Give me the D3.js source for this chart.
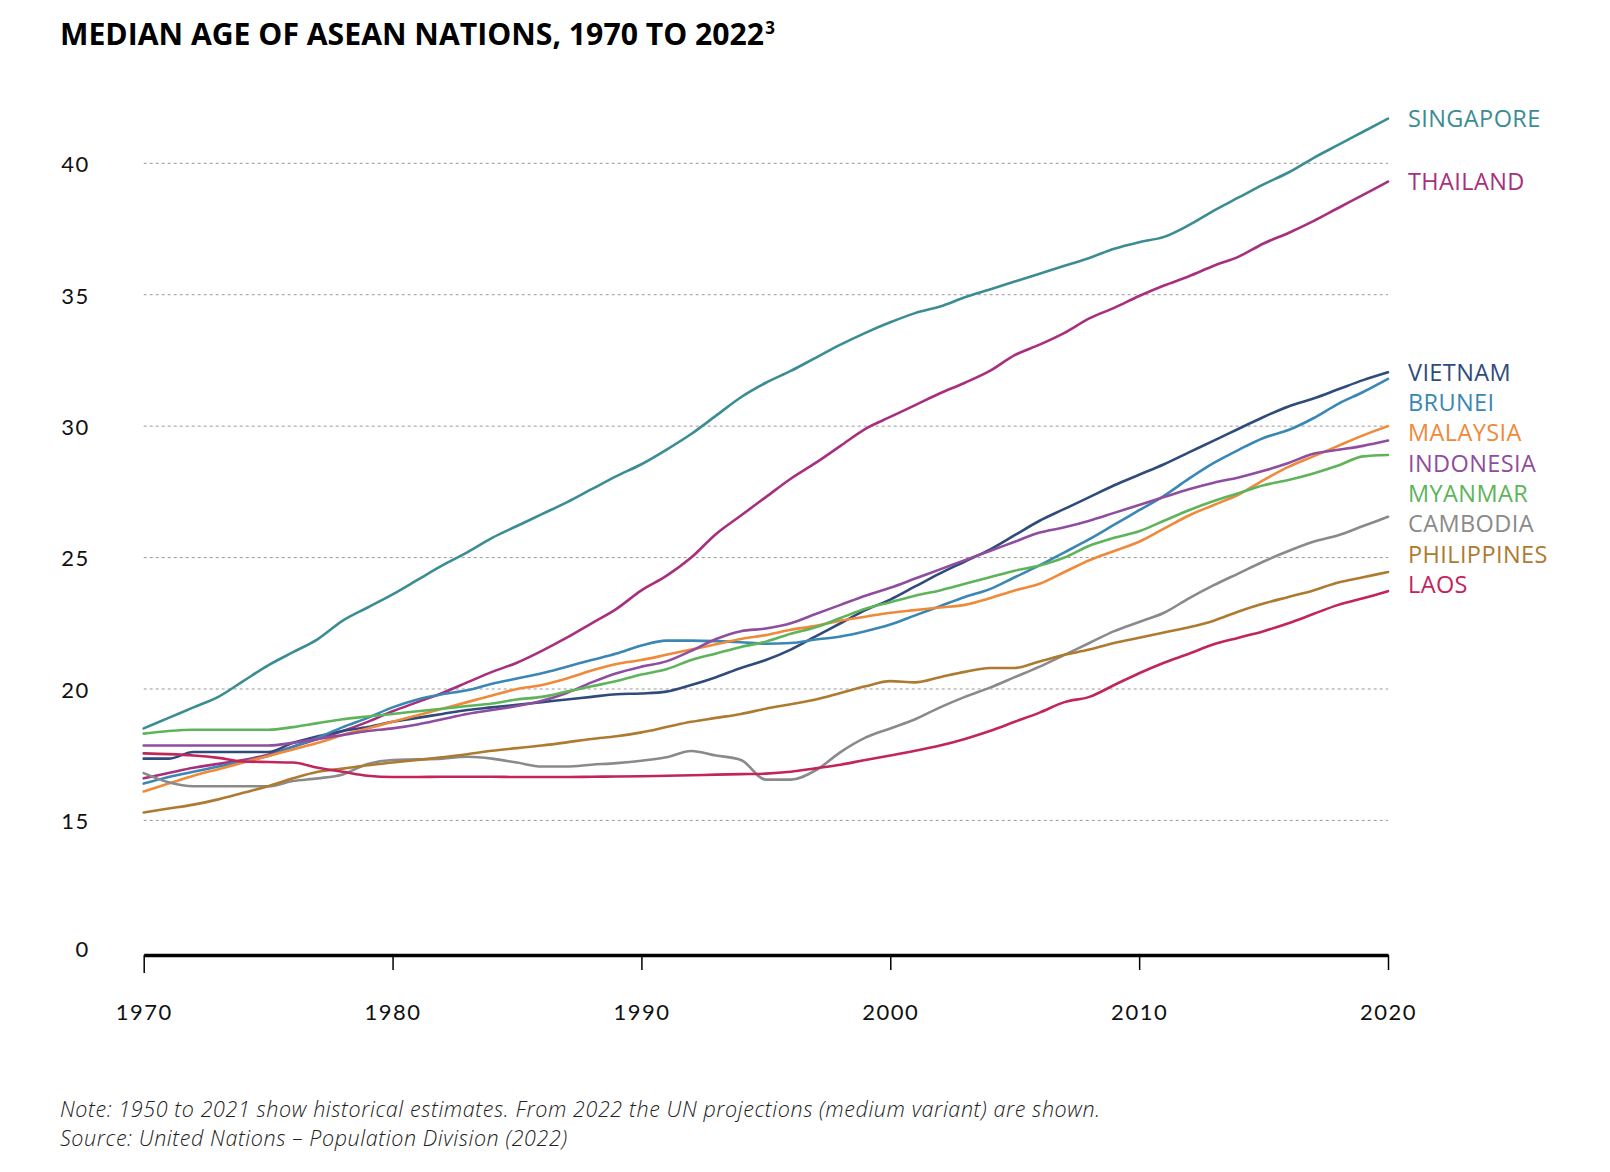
<!DOCTYPE html>
<html>
<head>
<meta charset="utf-8">
<script src="https://cdn.jsdelivr.net/npm/d3@7"></script>
<style>
  html, body { margin: 0; padding: 0; background: #fff; }
  svg { display: block; }
</style>
</head>
<body>
<script>
// ---------- DATA ----------
const years = [
  1970,1971,1972,1973,1974,1975,1976,1977,1978,1979,
  1980,1981,1982,1983,1984,1985,1986,1987,1988,1989,
  1990,1991,1992,1993,1994,1995,1996,1997,1998,1999,
  2000,2001,2002,2003,2004,2005,2006,2007,2008,2009,
  2010,2011,2012,2013,2014,2015,2016,2017,2018,2019,
  2020
];
const countries = ["SINGAPORE","THAILAND","VIETNAM","BRUNEI","MALAYSIA","INDONESIA","MYANMAR","CAMBODIA","PHILIPPINES","LAOS"];
const colors = ["#3b8d93","#a82f7d","#2f4b7b","#3a87b6","#ef8a3b","#8f4d9f","#5db45a","#8a8a8a","#ae7a2f","#c1255c"];

const singapore = [
  18.5,18.9,19.3,19.7,20.3,20.9,21.4,21.9,22.6,23.1,
  23.6,24.15,24.7,25.2,25.75,26.2,26.65,27.1,27.6,28.1,
  28.55,29.1,29.7,30.4,31.1,31.65,32.1,32.6,33.1,33.55,
  33.95,34.3,34.55,34.9,35.2,35.5,35.8,36.1,36.4,36.75,
  37.0,37.2,37.65,38.2,38.7,39.2,39.65,40.2,40.7,41.2,
  41.7];
const thailand = [
  16.6,16.8,17.0,17.15,17.3,17.5,17.8,18.1,18.4,18.75,
  19.15,19.5,19.85,20.25,20.65,21.0,21.45,21.95,22.5,23.05,
  23.75,24.3,25.0,25.9,26.6,27.3,28.0,28.6,29.25,29.9,
  30.35,30.8,31.25,31.65,32.1,32.7,33.1,33.55,34.1,34.5,
  34.95,35.35,35.7,36.1,36.45,36.95,37.35,37.8,38.3,38.8,
  39.3];
const vietnam = [
  17.35,17.35,17.6,17.6,17.6,17.6,17.95,18.2,18.4,18.55,
  18.75,18.9,19.05,19.2,19.3,19.4,19.5,19.6,19.7,19.8,
  19.83,19.9,20.15,20.45,20.8,21.1,21.5,22.0,22.5,23.0,
  23.4,23.9,24.4,24.85,25.3,25.85,26.4,26.85,27.3,27.75,
  28.15,28.55,29.0,29.45,29.9,30.35,30.75,31.05,31.4,31.75,
  32.05];
const brunei = [
  16.4,16.65,16.85,17.05,17.25,17.45,17.8,18.15,18.55,18.9,
  19.3,19.6,19.8,19.95,20.2,20.4,20.6,20.85,21.1,21.35,
  21.65,21.84,21.84,21.82,21.78,21.72,21.75,21.88,22.0,22.2,
  22.45,22.8,23.15,23.5,23.8,24.25,24.7,25.2,25.7,26.25,
  26.8,27.35,28.0,28.6,29.1,29.55,29.85,30.3,30.85,31.3,
  31.8];
const malaysia = [
  16.1,16.4,16.7,16.95,17.2,17.45,17.7,17.95,18.25,18.5,
  18.75,19.0,19.25,19.5,19.75,20.0,20.15,20.4,20.7,20.95,
  21.1,21.3,21.5,21.7,21.9,22.05,22.25,22.4,22.6,22.75,
  22.9,23.0,23.1,23.2,23.45,23.75,24.0,24.45,24.9,25.25,
  25.6,26.1,26.6,27.0,27.4,27.95,28.45,28.85,29.25,29.65,
  30.0];
const indonesia = [
  17.85,17.85,17.85,17.85,17.85,17.85,17.95,18.1,18.25,18.4,
  18.5,18.65,18.85,19.05,19.2,19.35,19.55,19.85,20.25,20.6,
  20.85,21.05,21.45,21.9,22.2,22.3,22.5,22.85,23.2,23.55,
  23.85,24.2,24.55,24.9,25.25,25.6,25.95,26.15,26.4,26.7,
  27.0,27.3,27.6,27.85,28.05,28.3,28.6,28.95,29.1,29.25,
  29.45];
const myanmar = [
  18.3,18.4,18.45,18.45,18.45,18.45,18.55,18.7,18.85,18.95,
  19.05,19.15,19.25,19.35,19.45,19.6,19.7,19.9,20.1,20.3,
  20.55,20.75,21.1,21.35,21.6,21.8,22.1,22.35,22.7,23.05,
  23.3,23.55,23.75,24.0,24.25,24.5,24.7,25.0,25.45,25.75,
  26.0,26.4,26.8,27.15,27.45,27.75,27.95,28.2,28.5,28.85,
  28.9];
const cambodia = [
  16.8,16.45,16.3,16.3,16.3,16.3,16.5,16.6,16.75,17.15,
  17.3,17.32,17.35,17.42,17.35,17.2,17.05,17.05,17.12,17.18,
  17.27,17.4,17.64,17.47,17.3,16.55,16.55,16.9,17.6,18.15,
  18.5,18.85,19.3,19.7,20.05,20.45,20.85,21.3,21.75,22.2,
  22.55,22.9,23.45,23.95,24.4,24.85,25.25,25.6,25.85,26.2,
  26.55];
const philippines = [
  15.3,15.45,15.6,15.8,16.05,16.3,16.6,16.85,16.97,17.1,
  17.2,17.3,17.4,17.52,17.65,17.75,17.85,17.97,18.1,18.2,
  18.35,18.55,18.75,18.9,19.05,19.25,19.42,19.6,19.85,20.1,
  20.3,20.25,20.45,20.65,20.8,20.8,21.05,21.3,21.5,21.75,
  21.95,22.15,22.35,22.6,22.95,23.25,23.5,23.75,24.05,24.25,
  24.45];
const laos = [
  17.55,17.52,17.47,17.38,17.24,17.22,17.2,17.0,16.85,16.7,
  16.65,16.65,16.66,16.66,16.66,16.65,16.65,16.65,16.66,16.67,
  16.68,16.7,16.72,16.74,16.76,16.78,16.85,16.98,17.12,17.3,
  17.47,17.65,17.85,18.1,18.4,18.75,19.1,19.5,19.7,20.15,
  20.6,21.0,21.34,21.7,21.95,22.2,22.5,22.85,23.2,23.45,
  23.72];

const seriesValues = [singapore, thailand, vietnam, brunei, malaysia, indonesia, myanmar, cambodia, philippines, laos];
const yTicks = [0, 15, 20, 25, 30, 35, 40];
const gridValues = [15, 20, 25, 30, 35, 40];
const xTicks = [1970, 1980, 1990, 2000, 2010, 2020];
const title = "MEDIAN AGE OF ASEAN NATIONS, 1970 TO 2022";
const titleSup = "3";
const notes = [
  "Note: 1950 to 2021 show historical estimates. From 2022 the UN projections (medium variant) are shown.",
  "Source: United Nations – Population Division (2022)"
];

// ---------- CHART ----------
const W = 1610, H = 1172;
const svg = d3.select("body").append("svg").attr("width", W).attr("height", H)
  .style("background", "#fff");

const x = d3.scaleLinear().domain([1970, 2020]).range([143.7, 1388]);
// broken axis: 0 sits on the baseline, 15..40 linear above it
const y = d3.scaleLinear().domain([0, 15, 40]).range([955, 820.4, 163.3]);

// Title
const t = svg.append("text")
  .attr("x", 60).attr("y", 45)
  .attr("font-family", "'Open Sans', sans-serif")
  .attr("font-weight", 700)
  .attr("font-size", 30.2)
  .attr("fill", "#000");
t.append("tspan").text(title);
t.append("tspan").attr("font-size", 17).attr("dy", -11).attr("dx", 1).text(titleSup);

// Gridlines
svg.append("g").selectAll("line").data(gridValues).join("line")
  .attr("x1", x(1970)).attr("x2", x(2020))
  .attr("y1", d => y(d)).attr("y2", d => y(d))
  .attr("stroke", "#9a9a9a").attr("stroke-width", 1)
  .attr("stroke-dasharray", "3,3");

// Y axis labels
const yAxis = d3.axisLeft(y).tickValues(yTicks).tickSize(0).tickPadding(54).tickFormat(d3.format("d"));
const gy = svg.append("g").attr("transform", `translate(${x(1970)},0)`).call(yAxis);
gy.select(".domain").remove();
gy.selectAll("text")
  .attr("font-family", "Lato, sans-serif")
  .attr("font-size", 22)
  .attr("letter-spacing", 1.5)
  .attr("fill", "#111")
  .attr("dy", d => d === 0 ? "0.05em" : "0.38em");

// X axis
const xAxis = d3.axisBottom(x).tickValues(xTicks).tickSize(15).tickSizeOuter(0).tickPadding(34).tickFormat(d3.format("d"));
const gx = svg.append("g").attr("transform", `translate(0,${y(0)})`).call(xAxis);
gx.select(".domain").attr("stroke", "#000").attr("stroke-width", 3.5);
gx.selectAll(".tick line").attr("stroke", "#000").attr("stroke-width", 1.5)
  .attr("y2", d => d === 1970 ? 18 : 15);
gx.selectAll(".tick text")
  .attr("font-family", "Lato, sans-serif")
  .attr("font-size", 22)
  .attr("letter-spacing", 1.5)
  .attr("fill", "#111");

// Lines
const line = d3.line()
  .x((d, i) => x(years[i]))
  .y(d => y(d))
  .curve(d3.curveMonotoneX);

svg.append("g").selectAll("path").data(seriesValues).join("path")
  .attr("d", d => line(d))
  .attr("fill", "none")
  .attr("stroke", (d, i) => colors[i])
  .attr("stroke-width", 2.6)
  .attr("stroke-linejoin", "round")
  .attr("stroke-linecap", "round");

// End labels: top two next to their line end, the rest stacked below VIETNAM
const spacing = 30.3;
const labelY = seriesValues.map((vals, i) => {
  const endY = y(vals[vals.length - 1]);
  if (i < 2) return endY;
  return y(seriesValues[2][seriesValues[2].length - 1]) + (i - 2) * spacing;
});
svg.append("g").selectAll("text").data(countries).join("text")
  .attr("x", 1408)
  .attr("y", (d, i) => labelY[i])
  .attr("dy", "0.36em")
  .attr("font-family", "'Open Sans', sans-serif")
  .attr("font-size", 23.5)
  .attr("letter-spacing", 0.4)
  .attr("fill", (d, i) => colors[i])
  .text(d => d);

// Footer notes
svg.append("g").selectAll("text").data(notes).join("text")
  .attr("x", 60)
  .attr("y", (d, i) => 1117 + i * 29)
  .attr("font-family", "'Open Sans', sans-serif")
  .attr("font-style", "italic")
  .attr("font-weight", 300)
  .attr("font-size", 21.5)
  .attr("letter-spacing", 0.6)
  .attr("fill", "#222")
  .text(d => d);
</script>
</body>
</html>
